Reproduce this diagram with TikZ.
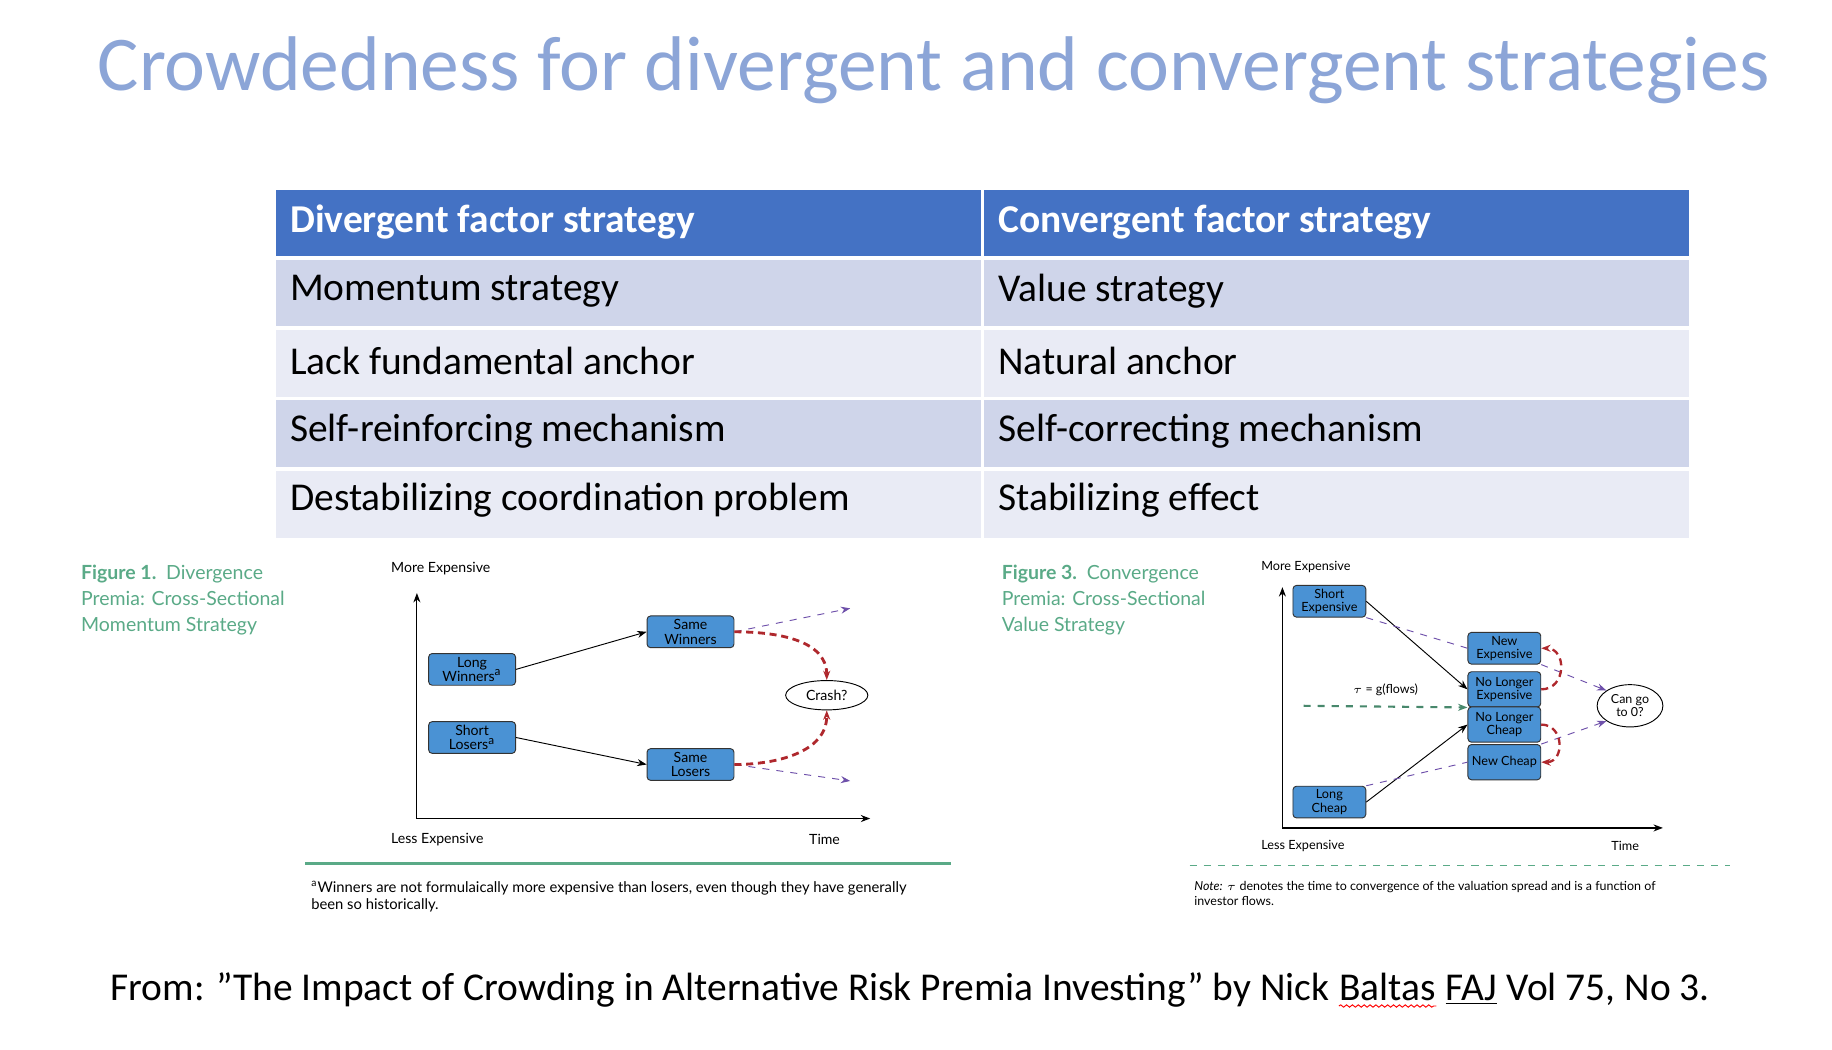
\documentclass[tikz,border=0pt]{standalone}
\usepackage{fontspec}
\setmainfont{Carlito}
\newfontfamily\chartfont{Lato}
\usetikzlibrary{arrows.meta,shapes.geometric,decorations.pathmorphing}
\definecolor{titleblue}{RGB}{140,165,215}
\definecolor{hdr}{RGB}{68,114,196}
\definecolor{rowA}{RGB}{207,213,234}
\definecolor{rowB}{RGB}{233,235,245}
\definecolor{boxblue}{RGB}{74,146,212}
\definecolor{figgreen}{RGB}{90,170,135}
\definecolor{crash}{RGB}{175,40,45}
\definecolor{purp}{RGB}{110,80,170}
\tikzset{
 cell/.style={anchor=west,font=\fontsize{16.8}{19}\selectfont},
 hcell/.style={anchor=west,font=\fontsize{16.8}{19}\selectfont\bfseries,text=white},
 bx/.style={draw=black!80,fill=boxblue,rounded corners=1.5pt,align=center,inner sep=0pt,font=\chartfont\fontsize{6}{6.2}\selectfont},
 lbl/.style={font=\chartfont\fontsize{6}{7}\selectfont,anchor=west},
 figcap/.style={font=\chartfont\fontsize{8.3}{11}\selectfont,text=figgreen,anchor=north west,align=left},
 ax/.style={-{Stealth[length=4pt]},line width=0.5pt},
 arr/.style={-{Stealth[length=4pt]},line width=0.4pt},
 pd/.style={-{Stealth[length=4pt]},purp,dashed,line width=0.4pt},
 rd/.style={-{Stealth[length=4pt]},crash,dash pattern=on 3pt off 2pt,line width=1.2pt},
}
\begin{document}
\begin{tikzpicture}[x=0.5pt,y=-0.5pt]
\useasboundingbox (0,0) rectangle (1560,894);
\node[text=titleblue,font=\fontsize{33}{36}\selectfont] (title) at (795,60) {Crowdedness for divergent and convergent strategies};
% table
\fill[hdr] (235,162) rectangle (835,218);
\fill[hdr] (838,162) rectangle (1438,218);
\foreach \y/\c in {221/rowA,281/rowB,341/rowA,401/rowB}{
 \fill[\c] (235,\y) rectangle (835,\y+57);
 \fill[\c] (838,\y) rectangle (1438,\y+57);
}
\node[hcell] (h1) at (240,189) {Divergent factor strategy};
\node[hcell] (h2) at (843,189) {Convergent factor strategy};
\node[cell] (a1) at (240,248) {Momentum strategy};
\node[cell] (b1) at (843,248) {Value strategy};
\node[cell] (a2) at (240,307) {Lack fundamental anchor};
\node[cell] (b2) at (843,307) {Natural anchor};
\node[cell] (a3) at (240,367) {Self-reinforcing mechanism};
\node[cell] (b3) at (843,367) {Self-correcting mechanism};
\node[cell] (a4) at (240,426) {Destabilizing coordination problem};
\node[cell] (b4) at (843,426) {Stabilizing effect};
% left figure
\node[figcap] (cap1) at (62,474) {\textbf{Figure 1.}\enspace Divergence\\Premia: Cross-Sectional\\Momentum Strategy};
\coordinate (o1) at (355,697);
\coordinate (yt1) at (355,505);
\coordinate (xe1) at (741,697);
\draw[ax] (o1) -- (yt1);
\draw[ax] (o1) -- (xe1);
\node[lbl] (me1) at (326,484) {More Expensive};
\node[lbl] (le1) at (326,715) {Less Expensive};
\node[lbl] (t1) at (682,715) {Time};
\tikzset{bx1/.style={bx,minimum width=37pt,minimum height=13.5pt}}
\node[bx1] (lw) at (402,570) {Long\\Winners\textsuperscript{a}};
\node[bx1] (sl) at (402,628) {Short\\Losers\textsuperscript{a}};
\node[bx1] (sw) at (588,538) {Same\\Winners};
\node[bx1] (sls) at (588,651) {Same\\Losers};
\node[draw,ellipse,inner sep=1pt,minimum width=35pt,minimum height=12.5pt,font=\chartfont\fontsize{6}{7}\selectfont] (cr) at (704,592) {Crash?};
\coordinate (pu1) at (724,518);
\coordinate (pl1) at (724,665);
\draw[arr] (lw.east) -- (sw.west);
\draw[arr] (sl.east) -- (sls.west);
\draw[pd] (sw.east) -- (pu1);
\draw[pd] (sls.east) -- (pl1);
\draw[rd] (sw.east) to[out=0,in=90] (cr.north);
\draw[rd] (sls.east) to[out=0,in=-90] (cr.south);
\draw[figgreen,line width=1.2pt] (260,735) -- (810,735);
\node[anchor=north west,align=left,font=\chartfont\fontsize{6.3}{7.6}\selectfont] (fn1) at (258,743) {\textsuperscript{a}Winners are not formulaically more expensive than losers, even though they have generally\\been so historically.};
% right figure
\node[figcap] (cap3) at (846,474) {\textbf{Figure 3.}\enspace Convergence\\Premia: Cross-Sectional\\Value Strategy};
\coordinate (o3) at (1092,705);
\coordinate (yt3) at (1092,500);
\coordinate (xe3) at (1416,705);
\draw[ax] (o3) -- (yt3);
\draw[ax] (o3) -- (xe3);
\node[lbl,font=\chartfont\fontsize{5.4}{6}\selectfont] (me3) at (1067,483) {More Expensive};
\node[lbl,font=\chartfont\fontsize{5.4}{6}\selectfont] (le3) at (1067,720) {Less Expensive};
\node[lbl,font=\chartfont\fontsize{5.4}{6}\selectfont] (t3) at (1365,720) {Time};
\tikzset{bx3/.style={bx,minimum width=31pt,minimum height=13.5pt,font=\chartfont\fontsize{5.4}{5.6}\selectfont}}
\node[bx3] (se) at (1132,512) {Short\\Expensive};
\node[bx3] (ne) at (1281,552) {New\\Expensive};
\node[bx3,minimum height=15pt] (nle) at (1281,587) {No Longer\\Expensive};
\node[bx3,minimum height=15pt] (nlc) at (1281,617) {No Longer\\Cheap};
\node[bx3,minimum height=15pt] (nc) at (1281,649) {New Cheap};
\node[bx3] (lc) at (1132,683) {Long\\Cheap};
\node[draw,ellipse,inner sep=0pt,minimum width=28pt,minimum height=18pt,align=center,font=\chartfont\fontsize{5.3}{5.6}\selectfont] (cg) at (1388,601) {Can go\\to 0?};
\coordinate (gs) at (1110,601);
\draw[-{Stealth[length=4pt]},figgreen!80!black,dashed,line width=0.9pt] (gs) -- (nle.south west) node[midway,above=1pt,text=black,font=\chartfont\fontsize{5.3}{6}\selectfont] (tau) {$\tau$ = g(flows)};
\draw[arr] (se.east) -- (nle.west);
\draw[arr] (lc.east) -- (nlc.west);
\draw[pd,-] (se.south east) -- (ne.west);
\draw[pd,-] (lc.north east) -- (nc.west);
\draw[pd] (ne.south east) -- (cg.north west);
\draw[pd] (nc.north east) -- (cg.south west);
\draw[rd,line width=1pt] (nle.east) to[out=0,in=0,looseness=1.6] (ne.east);
\draw[rd,line width=1pt] (nlc.east) to[out=0,in=0,looseness=1.6] (nc.east);
\draw[figgreen,line width=0.8pt,dashed] (1013,737) -- (1473,737);
\node[anchor=north west,align=left,font=\chartfont\fontsize{5.3}{6.6}\selectfont] (fn3) at (1010,743) {\textit{Note:} $\tau$ denotes the time to convergence of the valuation spread and is a function of\\investor flows.};
% source
\node[font=\fontsize{16.8}{19}\selectfont] (src) at (775,843) {From: ”The Impact of Crowding in Alternative Risk Premia Investing” by Nick \tikz[baseline=(w.base)]{\node[inner sep=0pt] (w) {Baltas};\draw[red,decorate,decoration={snake,amplitude=0.5pt,segment length=2.5pt},line width=0.4pt] ([yshift=-2.5pt]w.base west) -- ([yshift=-2.5pt]w.base east);} \underline{FAJ} Vol 75, No 3.};
\end{tikzpicture}
\end{document}
